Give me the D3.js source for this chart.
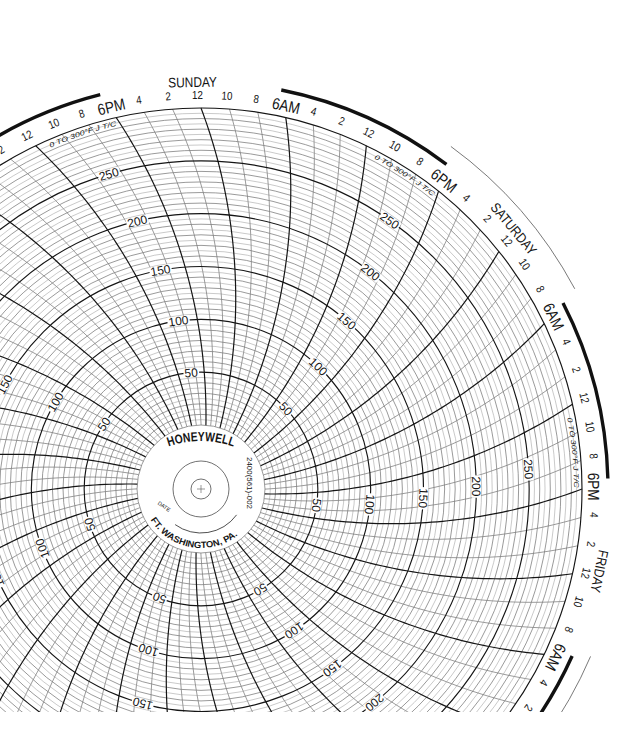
<!DOCTYPE html>
<html>
<head>
<meta charset="utf-8">
<script src="https://cdn.jsdelivr.net/npm/d3@7"></script>
<style>
html, body { margin: 0; padding: 0; background: #fff; }
svg { display: block; }
text { font-family: "Liberation Sans", Arial, sans-serif; fill: #151515; }
</style>
</head>
<body>
<svg id="chart"></svg>
<script>
var width = 640;
var height = 729;
var cx = 201, cy = 489;
var paperBottom = 712;   // the scan is cut off here

// chart data (read from the scanned paper)
var days = ["SUNDAY", "SATURDAY", "FRIDAY", "THURSDAY", "WEDNESDAY", "TUESDAY", "MONDAY"];
var hourLabels = ["12", "10", "8", "6AM", "4", "2", "12", "10", "8", "6PM", "4", "2"];
var valueTicks = [50, 100, 150, 200, 250];
var valueMax = 300;
var rangeNote = "0 TO 300°F J T/C";
var nightSteps = [3, 9];                 // 6AM -> 6PM going clockwise = night band
var edgeSegments = [[9, 15], [27, 33]];  // where the paper edge shows
var labelStep = -4.5;                    // value labels sit on the 9PM line

var stepsPerDay = hourLabels.length;
var totalSteps = days.length * stepsPerDay;

var rInner = 64, rOuter = 381;
var penArm = 540;   // radius of the pen arc that bends the time lines

var rScale = d3.scaleLinear().domain([0, valueMax]).range([rInner, rOuter]);
var aScale = d3.scaleLinear().domain([0, totalSteps]).range([0, 360]);

function rad(a) { return a * Math.PI / 180; }
// how far (degrees) a time line has turned at radius r compared to the outer edge
function bend(r) {
    return (Math.acos(r / (2 * penArm)) - Math.acos(rOuter / (2 * penArm))) * 180 / Math.PI;
}
function pt(r, a) { return [r * Math.sin(rad(a)), -r * Math.cos(rad(a))]; }
function onPage(r, a) {
    var p = pt(r, a);
    return p[1] + cy < paperBottom + 6 && p[0] + cx > -12 && p[0] + cx < width + 12;
}
function arcPath(r, a1, a2, sweep, ox, oy) {
    ox = ox || 0; oy = oy || 0;
    var p1 = pt(r, a1), p2 = pt(r, a2);
    var large = Math.abs(a2 - a1) > 180 ? 1 : 0;
    return "M" + (ox + p1[0]) + "," + (oy + p1[1]) + " A" + r + "," + r + " 0 " + large + " " + sweep + " " + (ox + p2[0]) + "," + (oy + p2[1]);
}

const svg = d3.select('#chart')
    .attr('width', width)
    .attr('height', height);

svg.append('defs').append('clipPath').attr('id', 'cut')
    .append('rect').attr('x', 0).attr('y', 0).attr('width', width).attr('height', paperBottom);

const chart = svg.append('g').attr('clip-path', 'url(#cut)')
    .append('g').attr('transform', `translate(${cx},${cy})`);

// concentric value circles
var circleVals = d3.range(0, valueMax + 1, 5);
function circleStyle(v) {
    if (v % 50 === 0 && v > 0) return ['#151515', 1.15];
    if (v % 10 === 0) return ['#6e6e6e', 0.7];
    return ['#a6a6a6', 0.6];
}
var gridMinor = chart.append('g').attr('fill', 'none');
var gridMajor = chart.append('g').attr('fill', 'none');

circleVals.forEach(function(v) {
    var st = circleStyle(v);
    var target = (v % 50 === 0 && v > 0) ? gridMajor : gridMinor;
    target.append('circle')
        .attr('r', rScale(v))
        .attr('stroke', st[0])
        .attr('stroke-width', st[1]);
});

// curved time lines, one every 2 hours, bold every 6 hours
var radii = d3.range(0, 61).map(i => rInner + (rOuter - rInner) * i / 60);
d3.range(0, totalSteps).forEach(function(k) {
    var a0 = aScale(k);
    var line = d3.lineRadial()
        .angle(r => rad(a0 + bend(r)))
        .radius(r => r);
    var bold = k % 3 === 0;
    (bold ? gridMajor : gridMinor).append('path')
        .attr('d', line(radii))
        .attr('stroke', bold ? '#151515' : '#7a7a7a')
        .attr('stroke-width', bold ? 1.2 : 0.75);
});

// night bands outside the grid
var band = d3.arc();
d3.range(0, days.length).forEach(function(d) {
    var r = 407;
    chart.append('path')
        .attr('d', band({
            innerRadius: r - 1.7, outerRadius: r + 1.7,
            startAngle: rad(aScale(d * stepsPerDay + nightSteps[0]) + bend(r)),
            endAngle: rad(aScale(d * stepsPerDay + nightSteps[1]) + bend(r))
        }))
        .attr('fill', '#111');
});

// faint edge of the paper
edgeSegments.forEach(function(s) {
    var r = 424;
    chart.append('path')
        .attr('d', arcPath(r, aScale(s[0]) + bend(r), aScale(s[1]) + bend(r), 1))
        .attr('fill', 'none')
        .attr('stroke', '#6a6a6a')
        .attr('stroke-width', 0.9);
});

// hour labels round the rim
var hourG = chart.append('g');
d3.range(0, totalSteps).forEach(function(k) {
    var lab = hourLabels[k % stepsPerDay];
    var big = lab.length > 2;
    var r = big ? 387 : 390;
    var a = aScale(k) + bend(r);
    if (!onPage(r, a)) return;
    hourG.append('text')
        .attr('transform', `rotate(${a}) translate(0,${-r}) scale(0.85,1)`)
        .attr('text-anchor', 'middle')
        .attr('font-size', big ? 16 : 11.5)
        .text(lab);
});

// day names
days.forEach(function(name, d) {
    var r = 402;
    var a = aScale(d * stepsPerDay) + bend(r);
    if (!onPage(r, a)) return;
    chart.append('text')
        .attr('transform', `rotate(${a}) translate(0,${-r}) scale(0.85,1)`)
        .attr('text-anchor', 'middle')
        .attr('font-size', 14)
        .text(name);
});

// range note between midnight and 6PM
days.forEach(function(name, d) {
    var r = 373;
    var c = aScale(d * stepsPerDay + labelStep) + bend(r) + 0.4;
    if (!onPage(r, c)) return;
    var id = 'note' + d;
    chart.append('path').attr('id', id)
        .attr('d', arcPath(r, c - 10, c + 10, 1))
        .attr('fill', 'none');
    chart.append('text')
        .attr('font-size', 6.8)
        .attr('font-style', 'italic')
        .append('textPath')
        .attr('href', '#' + id)
        .attr('startOffset', '50%')
        .attr('text-anchor', 'middle')
        .attr('textLength', 70)
        .attr('lengthAdjust', 'spacingAndGlyphs')
        .text(rangeNote);
});

// value labels along each day's 9PM line
days.forEach(function(name, d) {
    valueTicks.forEach(function(v) {
        var r = rScale(v);
        var a = aScale(d * stepsPerDay + labelStep) + bend(r);
        if (!onPage(r, a)) return;
        var g = chart.append('g').attr('transform', `rotate(${a}) translate(0,${-r})`);
        var bg = g.append('rect').attr('fill', '#fff');
        var t = g.append('text')
            .attr('text-anchor', 'middle')
            .attr('dy', '0.36em')
            .attr('font-size', 12)
            .text(v);
        var bb = t.node().getBBox();
        bg.attr('x', bb.x - 1).attr('y', -4.5).attr('width', bb.width + 2).attr('height', 9);
    });
});

// centre printing
var centre = chart.append('g');
centre.append('path').attr('id', 'brand')
    .attr('d', arcPath(96, -45, 45, 1, 0, 48)).attr('fill', 'none');
centre.append('text')
    .attr('font-size', 13)
    .attr('font-weight', 'bold')
    .append('textPath')
    .attr('href', '#brand')
    .attr('startOffset', '50%')
    .attr('text-anchor', 'middle')
    .attr('textLength', 66)
    .attr('lengthAdjust', 'spacingAndGlyphs')
    .text('HONEYWELL');

centre.append('path').attr('id', 'town')
    .attr('d', arcPath(59, 268, 112, 0)).attr('fill', 'none');
centre.append('text')
    .attr('font-size', 9)
    .attr('font-weight', 'bold')
    .append('textPath')
    .attr('href', '#town')
    .attr('startOffset', '50%')
    .attr('text-anchor', 'middle')
    .attr('textLength', 100)
    .attr('lengthAdjust', 'spacingAndGlyphs')
    .text('FT. WASHINGTON, PA.');

centre.append('text')
    .attr('transform', 'translate(48,-6) rotate(90)')
    .attr('text-anchor', 'middle')
    .attr('dominant-baseline', 'middle')
    .attr('font-size', 7.5)
    .attr('textLength', 52)
    .attr('lengthAdjust', 'spacingAndGlyphs')
    .text('2400(561)-002');

centre.append('text')
    .attr('transform', 'translate(-38,19) rotate(35)')
    .attr('text-anchor', 'middle')
    .attr('font-size', 5.5)
    .text('DATE');

centre.append('path')
    .attr('d', arcPath(44, 216, 126, 0))
    .attr('fill', 'none').attr('stroke', '#222').attr('stroke-width', 0.8);

[28, 10].forEach(function(r) {
    centre.append('circle').attr('r', r)
        .attr('fill', 'none').attr('stroke', '#333').attr('stroke-width', 0.7);
});
centre.append('path').attr('d', 'M-4,0H4M0,-4V4')
    .attr('stroke', '#555').attr('stroke-width', 0.6);
</script>
</body>
</html>
